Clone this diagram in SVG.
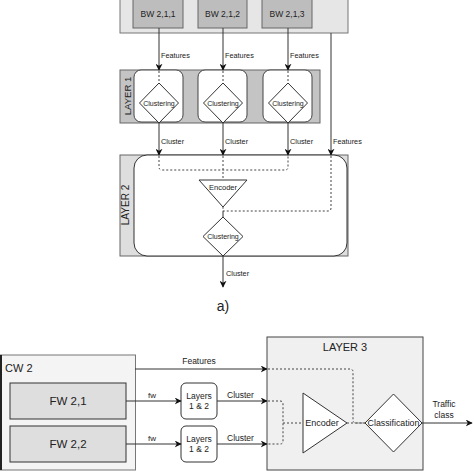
<svg xmlns="http://www.w3.org/2000/svg" width="474" height="474" viewBox="0 0 474 474">
<defs>
<marker id="ah" viewBox="0 0 10 10" refX="9" refY="5" markerWidth="7" markerHeight="7" markerUnits="userSpaceOnUse" orient="auto">
<path d="M0,0 L10,5 L0,10 L3,5 z" fill="#111"/>
</marker>
<style>
text{font-family:"Liberation Sans",Arial,sans-serif;fill:#222}
.ln{stroke:#333;stroke-width:1;fill:none}
.ds{stroke:#444;stroke-width:1;fill:none;stroke-dasharray:2,2}
.sh{stroke:#333;stroke-width:1;fill:#fff}
.lbl{font-size:7.3px}
.c{text-anchor:middle;dominant-baseline:central}
</style>
</defs>
<rect width="474" height="474" fill="#fff"/>

<g id="top">
<rect x="120" y="-5" width="228" height="38" fill="#e6e6e6" stroke="#777"/>
<g id="bw211"><rect x="133" y="-3" width="50" height="31" fill="#bdbdbd" stroke="#666"/><text class="c" x="158" y="14" font-size="8.5">BW 2,1,1</text></g>
<g id="bw212"><rect x="198" y="-3" width="49" height="31" fill="#bdbdbd" stroke="#666"/><text class="c" x="222.5" y="14" font-size="8.5">BW 2,1,2</text></g>
<g id="bw213"><rect x="262" y="-3" width="50" height="31" fill="#bdbdbd" stroke="#666"/><text class="c" x="287" y="14" font-size="8.5">BW 2,1,3</text></g>
</g>

<g id="layer1">
<rect x="120" y="70" width="200" height="53" fill="#c4c4c4" stroke="#666"/>
<text class="c" transform="translate(127,96) rotate(-90)" font-size="9.5">LAYER 1</text>
<rect x="134" y="70" width="49" height="52" rx="7" fill="#fff" stroke="#444"/>
<rect x="198" y="70" width="49" height="52" rx="7" fill="#fff" stroke="#444"/>
<rect x="263" y="70" width="49" height="52" rx="7" fill="#fff" stroke="#444"/>
</g>

<g id="layer2">
<rect x="120" y="155" width="228" height="101" fill="#dedede" stroke="#666"/>
<rect x="134" y="155" width="213" height="101" rx="13" fill="#fff" stroke="#333"/>
<text class="c" transform="translate(125,205) rotate(-90)" font-size="10">LAYER 2</text>
</g>

<g id="cw2">
<rect x="0.5" y="355" width="135" height="115" fill="#f4f4f4" stroke="#777"/>
<line x1="1" y1="355" x2="1" y2="470" stroke="#222" stroke-width="2"/>
<text x="5" y="372" font-size="11">CW 2</text>
<g id="fw21"><rect x="10" y="383" width="116" height="36" fill="#dedede" stroke="#333"/><text class="c" x="68" y="401" font-size="11.5">FW 2,1</text></g>
<g id="fw22"><rect x="10" y="426" width="116" height="36" fill="#dedede" stroke="#333"/><text class="c" x="68" y="444" font-size="11.5">FW 2,2</text></g>
</g>

<g id="layers12a"><rect x="181" y="383" width="36" height="36" rx="5" class="sh"/><text class="c" x="199" y="396" font-size="8.5">Layers</text><text class="c" x="199" y="406" font-size="8.5">1 &amp; 2</text></g>
<g id="layers12b"><rect x="181" y="426" width="36" height="36" rx="5" class="sh"/><text class="c" x="199" y="439" font-size="8.5">Layers</text><text class="c" x="199" y="449" font-size="8.5">1 &amp; 2</text></g>

<g id="layer3">
<rect x="267" y="337" width="156" height="133" fill="#f0f0f0" stroke="#444"/>
<text class="c" x="345" y="347" font-size="11">LAYER 3</text>
</g>

<g id="connectors">
<line class="ln" x1="159" y1="28" x2="159" y2="70" marker-end="url(#ah)"/>
<line class="ln" x1="223" y1="28" x2="223" y2="70" marker-end="url(#ah)"/>
<line class="ln" x1="288" y1="28" x2="288" y2="70" marker-end="url(#ah)"/>
<text class="lbl" x="161" y="58">Features</text>
<text class="lbl" x="225" y="58">Features</text>
<text class="lbl" x="290" y="58">Features</text>
<line class="ln" x1="331" y1="33" x2="331" y2="155" marker-end="url(#ah)"/>
<text class="lbl" x="333" y="144">Features</text>
<line class="ds" x1="159" y1="71" x2="159" y2="83"/>
<line class="ds" x1="223" y1="71" x2="223" y2="83"/>
<line class="ds" x1="288" y1="71" x2="288" y2="83"/>
<line class="ln" x1="159" y1="123" x2="159" y2="155" marker-end="url(#ah)"/>
<line class="ln" x1="223" y1="123" x2="223" y2="155" marker-end="url(#ah)"/>
<line class="ln" x1="288" y1="123" x2="288" y2="155" marker-end="url(#ah)"/>
<text class="lbl" x="161" y="144">Cluster</text>
<text class="lbl" x="225" y="144">Cluster</text>
<text class="lbl" x="290" y="144">Cluster</text>
<path class="ds" d="M159,156 V167 Q159,170 162,170 H285 Q288,170 288,167 V156"/>
<line class="ds" x1="223" y1="156" x2="223" y2="180"/>
<path class="ds" d="M331,156 V208 Q331,211 328,211 H223 V207"/>
<line class="ln" x1="223" y1="211" x2="223" y2="217"/>
<line class="ln" x1="223" y1="256" x2="223" y2="287" marker-end="url(#ah)"/>
<text class="lbl" x="226" y="276">Cluster</text>
<line class="ln" x1="135" y1="369" x2="267" y2="369" marker-end="url(#ah)"/>
<text class="c" x="199" y="361" font-size="8.5">Features</text>
<line class="ln" x1="126" y1="401" x2="181" y2="401" marker-end="url(#ah)"/>
<line class="ln" x1="126" y1="444" x2="181" y2="444" marker-end="url(#ah)"/>
<text class="c" x="152" y="395" font-size="8">fw</text>
<text class="c" x="152" y="438" font-size="8">fw</text>
<line class="ln" x1="217" y1="401" x2="267" y2="401" marker-end="url(#ah)"/>
<line class="ln" x1="217" y1="444" x2="267" y2="444" marker-end="url(#ah)"/>
<text x="227" y="398" font-size="8.5">Cluster</text>
<text x="227" y="441" font-size="8.5">Cluster</text>
<path class="ds" d="M268,369 H350 Q353,369 353,372 V420 Q353,423 356,423 H365"/>
<path class="ds" d="M268,401 H280 Q283,401 283,404 V441 Q283,444 280,444 H268"/>
<line class="ds" x1="283" y1="423" x2="303" y2="423"/>
<line class="ds" x1="347" y1="423" x2="365" y2="423"/>
<line class="ln" x1="422" y1="423" x2="472" y2="423" marker-end="url(#ah)"/>
<text class="c" x="444" y="404" font-size="8.5">Traffic</text>
<text class="c" x="444" y="415" font-size="8.5">class</text>
</g>

<g id="clust1"><polygon class="sh" points="159,83 178.5,103 159,123 139.5,103"/><text class="c" x="159" y="103" font-size="7">Clustering</text></g>
<g id="clust2"><polygon class="sh" points="223,83 242.5,103 223,123 203.5,103"/><text class="c" x="223" y="103" font-size="7">Clustering</text></g>
<g id="clust3"><polygon class="sh" points="288,83 307.5,103 288,123 268.5,103"/><text class="c" x="288" y="103" font-size="7">Clustering</text></g>
<g id="enc2"><polygon class="sh" points="199,180 247,180 223,207"/><text class="c" x="223" y="187" font-size="7.5">Encoder</text></g>
<g id="clust4"><polygon class="sh" points="223,217 243,236.5 223,256 203,236.5"/><text class="c" x="223" y="236.5" font-size="7">Clustering</text></g>
<g id="enc3"><polygon class="sh" points="303,393 347,423 303,453"/><text class="c" x="322" y="423" font-size="9">Encoder</text></g>
<g id="classif"><polygon class="sh" points="393.5,394 422,423 393.5,452 365,423"/><text class="c" x="393.5" y="423" font-size="8.8">Classification</text></g>

<text class="c" x="223" y="306" font-size="14">a)</text>
</svg>
